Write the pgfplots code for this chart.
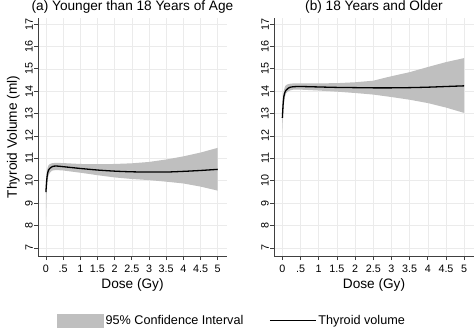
\documentclass[border=0pt]{standalone}
\usepackage{fontspec}
\setmainfont{Liberation Sans}
\usepackage{pgfplots}
\pgfplotsset{compat=1.18}
\usepgfplotslibrary{fillbetween}
\definecolor{cifill}{gray}{0.75}
\definecolor{gridc}{gray}{0.92}
\definecolor{axc}{gray}{0.25}

\pgfplotsset{
  stata/.style={
    scale only axis,
    height=238bp,
    xmin=-0.23, xmax=5.27,
    ymin=6.64, ymax=17.27,
    axis x line*=bottom, axis y line*=left,
    axis line style={axc, line width=0.8bp, -},
    xtick={0,0.5,1,1.5,2,2.5,3,3.5,4,4.5,5},
    xticklabels={0,.5,1,1.5,2,2.5,3,3.5,4,4.5,5},
    ytick={7,8,...,17},
    tick align=outside,
    major tick length=4bp,
    tick style={axc, line width=0.8bp},
    grid=major,
    major grid style={gridc, line width=0.6bp},
    /pgf/number format/assume math mode=true,
    ticklabel style={font=\fontsize{10.8}{12}\selectfont, text=black},
    xticklabel style={yshift=-1.5bp},
    yticklabel style={rotate=90, anchor=south, inner sep=1bp},
    xlabel={Dose (Gy)},
    xlabel style={font=\fontsize{13.7}{16}\selectfont, yshift=1bp},
    title style={font=\fontsize{13.7}{16}\selectfont, yshift=-5bp},
  }
}

\pgfplotstableread{
x    lo     mid    up
0    8.25   9.49   9.90
0.02 9.30   9.95   10.25
0.04 9.85   10.25  10.52
0.07 10.20  10.45  10.68
0.10 10.32  10.53  10.73
0.15 10.42  10.60  10.77
0.20 10.46  10.64  10.79
0.30 10.48  10.66  10.80
0.50 10.46  10.63  10.79
0.75 10.41  10.59  10.77
1.00 10.36  10.55  10.75
1.50 10.25  10.48  10.74
2.00 10.15  10.43  10.75
2.50 10.08  10.40  10.78
3.00 10.03  10.39  10.84
3.50 9.96   10.39  10.95
4.00 9.88   10.42  11.09
4.50 9.74   10.46  11.26
5.00 9.56   10.51  11.47
}\young

\pgfplotstableread{
x    lo     mid    up
0    12.20  12.81  13.30
0.02 12.95  13.40  13.75
0.04 13.40  13.75  14.02
0.07 13.75  13.95  14.20
0.10 13.90  14.04  14.27
0.15 13.98  14.12  14.31
0.20 14.03  14.17  14.33
0.30 14.07  14.20  14.35
0.50 14.07  14.21  14.35
1.00 14.03  14.19  14.35
1.50 13.98  14.17  14.36
2.00 13.92  14.16  14.40
2.50 13.85  14.15  14.47
3.00 13.74  14.15  14.67
3.50 13.62  14.16  14.85
4.00 13.47  14.18  15.08
4.50 13.27  14.21  15.30
5.00 13.03  14.24  15.48
}\old

\begin{document}
\begin{tikzpicture}
\begin{axis}[stata,
  at={(0,0)}, anchor=south west,
  width=189bp,
  title={(a) Younger than 18 Years of Age},
  ylabel={Thyroid Volume (ml)},
  ylabel style={font=\fontsize{13.7}{16}\selectfont, yshift=1bp},
  legend columns=2,
  legend style={draw=none, fill=none, inner sep=0pt,
    at={(0.1005,-0.273)}, anchor=west,
    font=\fontsize{12.7}{15}\selectfont,
    /tikz/every even column/.append style={column sep=24bp}},
  legend cell align=left,
]
\addplot[name path=ua, draw=none, forget plot] table[x=x, y=up] {\young};
\addplot[name path=la, draw=none, forget plot] table[x=x, y=lo] {\young};
\addplot[cifill, forget plot] fill between[of=ua and la];
\addplot[black, line width=1.3bp, smooth, forget plot] table[x=x, y=mid] {\young};
\addlegendimage{legend image code/.code={\fill[cifill] (0bp,-6.5bp) rectangle (46bp,6.5bp);}}
\addlegendentry{95\% Confidence Interval}
\addlegendimage{legend image code/.code={\draw[black, line width=1bp] (0bp,0bp) -- (46bp,0bp);}}
\addlegendentry{Thyroid volume}
\end{axis}

\begin{axis}[stata,
  at={(236bp,0)}, anchor=south west,
  width=200bp,
  title={(b) 18 Years and Older},
]
\addplot[name path=ub, draw=none] table[x=x, y=up] {\old};
\addplot[name path=lb, draw=none] table[x=x, y=lo] {\old};
\addplot[cifill] fill between[of=ub and lb];
\addplot[black, line width=1.3bp, smooth] table[x=x, y=mid] {\old};
\end{axis}
\pgfresetboundingbox
\path[use as bounding box] (-38bp,-73bp) rectangle (436bp,256bp);
\end{tikzpicture}
\end{document}
